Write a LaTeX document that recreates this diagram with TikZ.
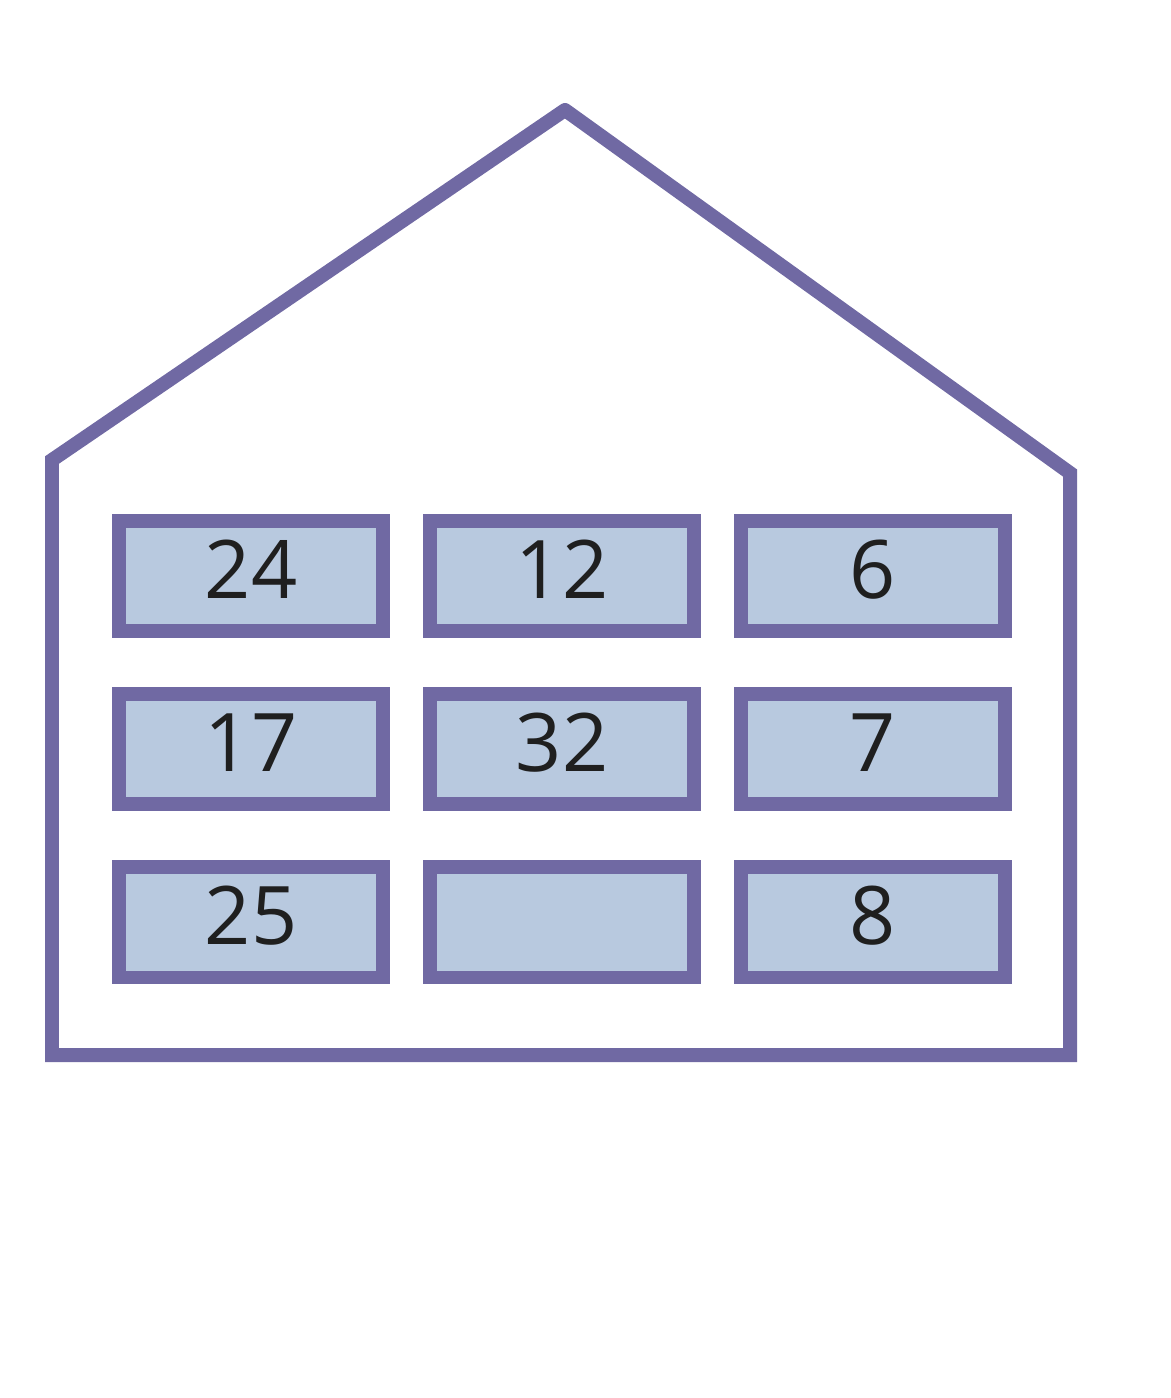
\documentclass[tikz,border=0pt]{standalone}
\usepackage{fontspec}
\setmainfont{Open Sans}
\usepackage{xcolor}
\definecolor{housepurple}{HTML}{7069A3}
\definecolor{roomblue}{HTML}{B8C9DF}
\tikzset{
  room/.style={draw=housepurple, fill=roomblue, line width=0.28cm,
    minimum width=5.28cm, minimum height=2.22cm, inner sep=0pt,
    text height=1.18cm, text depth=0.28cm, text=black!88,
    font=\fontsize{46}{56}\selectfont},
  wall/.style={draw=housepurple, line width=0.28cm, line join=miter, line cap=round}
}
\begin{document}
\begin{tikzpicture}[x=0.02cm,y=-0.02cm]
\useasboundingbox (0,0) rectangle (1170,1398);
% house outline
\coordinate (apex) at (565,110);
\coordinate (tr) at (1070,473);
\coordinate (br) at (1070,1055);
\coordinate (bl) at (52,1055);
\coordinate (tl) at (52,460);
\draw[wall] (apex) -- (tr) -- (br) -- (bl) -- (tl) -- (apex);
% rooms
\node[room] (n24) at (251,576) {24};
\node[room] (n12) at (562,576) {12};
\node[room] (n6) at (873,576) {6};
\node[room] (n17) at (251,749) {17};
\node[room] (n32) at (562,749) {32};
\node[room] (n7) at (873,749) {7};
\node[room] (n25) at (251,922) {25};
\node[room] (blank) at (562,922) {};
\node[room] (n8) at (873,922) {8};
\end{tikzpicture}
\end{document}
